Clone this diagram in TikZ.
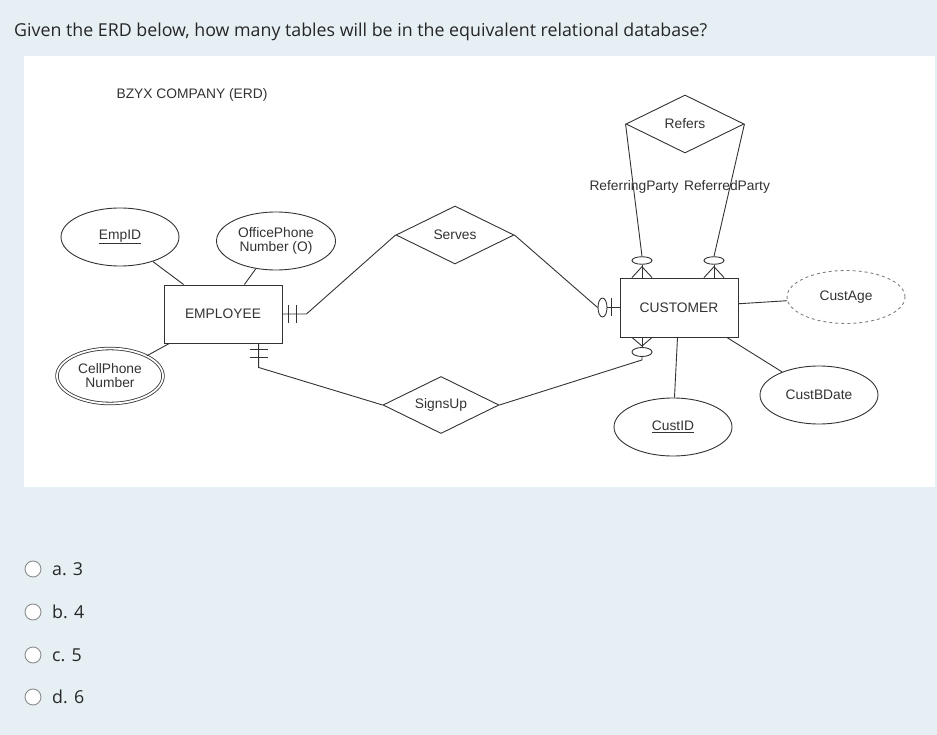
\documentclass[tikz,border=0pt]{standalone}
\usepackage{fontspec}
\setmainfont{Liberation Sans}
\newfontfamily\quizfont{Open Sans}
\usetikzlibrary{shapes.geometric,calc}
\definecolor{pagebg}{HTML}{E6F0F4}
\definecolor{ink}{HTML}{333333}
\definecolor{radiogray}{HTML}{8C8C8C}

\begin{document}
\begin{tikzpicture}
[
x=1pt,y=-1pt,
every node/.style={font=\fontsize{13.8}{16}\selectfont,text=ink},
line/.style={draw=ink,line width=0.9pt},
entity/.style={line,rectangle,minimum width=118pt,minimum height=58pt,inner sep=0pt},
relation/.style={line,diamond,aspect=2,minimum width=118pt,minimum height=58pt,inner sep=0pt},
attrib/.style={line,ellipse,minimum width=118pt,minimum height=58pt,inner sep=0pt,align=center},
multiattrib/.style={attrib,double,double distance=1.8pt,line width=0.8pt,minimum width=106pt,minimum height=55pt},
derivedattrib/.style={attrib,draw=gray,dashed,minimum height=53pt},
optmark/.style={line,ellipse,minimum width=20pt,minimum height=7.5pt,inner sep=0pt},
radio/.style={circle,draw=radiogray,fill=white,line width=0.9pt,minimum size=16pt,inner sep=0pt},
answer/.style={anchor=west,inner sep=0pt,text=black!85,font=\quizfont\fontsize{17.8}{22}\selectfont},
]

\useasboundingbox (0,0) rectangle (937,735);
\fill[pagebg] (0,0) rectangle (937,735);
\fill[white] (24,56) rectangle (935,487);

%Place the nodes
\node[answer] (question) at (14,32) {Given the ERD below, how many tables will be in the equivalent relational database?};
\node (title) at (192,95) {BZYX COMPANY (ERD)};

\node[relation] (refers) at (685,124) {Refers};
\node[relation] (serves) at (455,235) {Serves};
\node[relation,minimum width=116pt,minimum height=57pt] (signsup) at (441,405) {SignsUp};

\node[entity] (emp) at (223,314) {EMPLOYEE};
\node[entity,minimum height=59pt] (cust) at (679,307.5) {CUSTOMER};

\node[attrib] (empid) at (120,237) {\underline{EmpID}};
\node[attrib,minimum width=119pt] (office) at (276,241) {OfficePhone\\[-2pt]Number (O)};
\node[multiattrib] (cell) at (110,376) {CellPhone\\[-2pt]Number};

\node[derivedattrib] (custage) at (846,297) {CustAge};
\node[attrib] (custbdate) at (819,395) {CustBDate};
\node[attrib] (custid) at (673,427) {\underline{CustID}};

\node (referring) at (634,187) {ReferringParty};
\node (referred) at (727,187) {ReferredParty};

\node[optmark] (refL) at (642,260.5) {};
\node[optmark] (refR) at (714,260.5) {};
\node[optmark,minimum height=9pt] (signO) at (642,352) {};
\node[optmark,minimum width=9pt,minimum height=19pt] (servO) at (602.5,307.5) {};

\coordinate (empR) at ($(emp.east)+(24,0)$);
\coordinate (empB) at ($(emp.south west)+(95,24)$);

%Draw the connections
\draw[line] (empid) -- (emp);
\draw[line] (office) -- (emp);
\draw[line] (cell) -- (emp);
\draw[line] (cust) -- (custage);
\draw[line] (cust) -- (custbdate);
\draw[line] (cust) -- (custid);

% Serves: one employee, zero or one on customer side
\draw[line] (emp.east) -- (empR) -- (serves.west);
\draw[line] ($(emp.east)+(6,-9)$) -- ++(0,18);
\draw[line] ($(emp.east)+(14,-9)$) -- ++(0,18);
\draw[line] (serves.east) -- (servO.west);
\draw[line] (servO.east) -- (cust.west);
\draw[line] ($(cust.west)+(-8,-9)$) -- ++(0,18);

% SignsUp
\draw[line] (emp.south -| empB) -- (empB) -- (signsup.west);
\draw[line] ($(emp.south -| empB)+(-9,6)$) -- ++(18,0);
\draw[line] ($(emp.south -| empB)+(-9,14)$) -- ++(18,0);
\draw[line] (signsup.east) -- ($(signO.south)+(0,3)$) -- (signO.south);
\draw[line] (signO.north) -- (signO.north |- cust.south);
\draw[line] ($(signO.north |- cust.south)+(-10,0)$) -- ($(signO.north)+(0,-1)$) -- ($(signO.north |- cust.south)+(10,0)$);

% Refers (recursive)
\draw[line] (refers.west) -- (refL.north);
\draw[line] (refers.east) -- (refR.north);
\draw[line] (refL.south) -- (refL.south |- cust.north);
\draw[line] ($(refL.south |- cust.north)+(-10,0)$) -- ($(refL.south)+(0,2)$) -- ($(refL.south |- cust.north)+(10,0)$);
\draw[line] (refR.south) -- (refR.south |- cust.north);
\draw[line] ($(refR.south |- cust.north)+(-10,0)$) -- ($(refR.south)+(0,2)$) -- ($(refR.south |- cust.north)+(10,0)$);

%Answers
\foreach \lbl/\ypos in {a. 3/569,b. 4/612,c. 5/655,d. 6/697}{
  \node[radio] (r\ypos) at (33,\ypos) {};
  \node[answer] at (52,\ypos) {\lbl};
}
\end{tikzpicture}
\end{document}
